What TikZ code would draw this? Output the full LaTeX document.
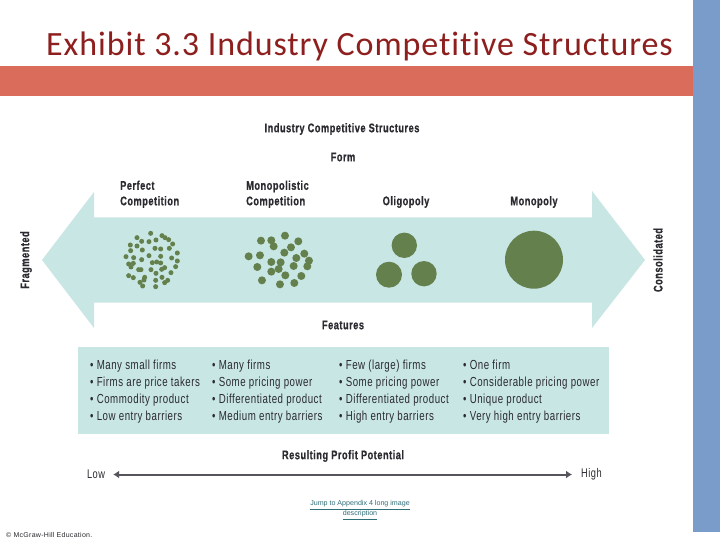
\documentclass[tikz,border=0pt]{standalone}
\usepackage{fontspec}
\setmainfont{Liberation Sans}
\newfontfamily\narrowf[FakeStretch=0.74,LetterSpace=4]{Liberation Sans}
\newfontfamily\narrowb[FakeStretch=0.74,LetterSpace=4,FakeBold=0.6]{Liberation Sans Bold}
\newfontfamily\titlef[Ligatures=NoCommon,LetterSpace=2.7]{Carlito}
\usetikzlibrary{arrows.meta}
\definecolor{bandred}{HTML}{D96C5B}
\definecolor{sideblue}{HTML}{7A9CCB}
\definecolor{paleteal}{HTML}{C8E6E4}
\definecolor{dotgreen}{HTML}{64804C}
\definecolor{titlered}{HTML}{8E1F1F}
\definecolor{inkgrey}{HTML}{2A2A30}
\definecolor{linkteal}{HTML}{2F6F78}
\definecolor{linegrey}{HTML}{55565C}
\tikzset{
  head/.style={font=\narrowb\fontsize{12.5}{15.5}\selectfont,text=inkgrey,inner sep=0pt,align=left},
  bullets/.style={font=\narrowf\fontsize{13.1}{17}\selectfont,text=inkgrey,inner sep=0pt,align=left,anchor=north west},
  dot/.style={fill=dotgreen,draw=none}
}
\begin{document}
\begin{tikzpicture}[x=1pt,y=-1pt]
\useasboundingbox (0,0) rectangle (720,540);
\fill[white] (0,0) rectangle (720,540);
\fill[sideblue] (693,0) rectangle (720,532);
\fill[bandred] (0,66) rectangle (693,96);
\node[font=\titlef\fontsize{34}{36}\selectfont,text=titlered,inner sep=0pt,anchor=base west] (title) at (46,55.5) {Exhibit 3.3 Industry Competitive Structures};
\fill[paleteal] (42,260) -- (94,192) -- (94,217.5) -- (592,217.5) -- (592,191) -- (645,260) -- (592,328) -- (592,302.5) -- (94,302.5) -- (94,328) -- cycle;
\fill[paleteal] (78,347) rectangle (609,434);
\node[head] (main) at (342,129) {Industry Competitive Structures};
\node[head] (form) at (343,157) {Form};
\node[head,anchor=north west] (pc) at (120,180.5) {Perfect\\Competition};
\node[head,anchor=north west] (mc) at (246,180.5) {Monopolistic\\Competition};
\node[head] (oli) at (406,202) {Oligopoly};
\node[head] (mono) at (534,202) {Monopoly};
\node[head] (feat) at (343,325) {Features};
\node[head] (profit) at (343,456) {Resulting Profit Potential};
\node[head,rotate=90] (frag) at (26,260) {Fragmented};
\node[head,rotate=90] (cons) at (658,260) {Consolidated};
\begin{scope}[shift={(90,170)},x=0.3333pt,y=-0.3333pt]
\foreach \a/\b in {182/190,141/203,155/214,177/215,198/210,216/197,225/203,236/209,248/222,121/225,141/228,122/242,157/240,195/235,212/237,238/235,262/249,108/260,131/263,177/257,212/259,155/269,245/264,262/273,116/282,130/280,123/291,187/278,200/276,212/279,146/299,153/299,183/299,215/298,224/293,257/290,198/310,243/308,116/317,130/323,164/322,162/330,216/322,197/331,233/331,224/338,150/337,158/348,197/350}
  \fill[dot] (\a,\b) circle[radius=2.5pt];
\foreach \a/\b in {513/212,544/211,551/229,585/197,625/214,603/232,583/248,643/251,476/259,510/256,619/264,657/272,652/289,544/276,572/277,502/291,611/288,566/297,544/305,586/316,634/318,516/331,570/343,613/339}
  \fill[dot] (\a,\b) circle[radius=4pt];
\end{scope}
\fill[dot] (404.3,245.3) circle[radius=12.7pt];
\fill[dot] (389,274.7) circle[radius=13pt];
\fill[dot] (424,273.7) circle[radius=12.7pt];
\fill[dot] (534,259.7) circle[radius=29pt];
\node[bullets] (c1) at (90,359.5) {• Many small firms\\• Firms are price takers\\• Commodity product\\• Low entry barriers};
\node[bullets] (c2) at (212,359.5) {• Many firms\\• Some pricing power\\• Differentiated product\\• Medium entry barriers};
\node[bullets] (c3) at (339,359.5) {• Few (large) firms\\• Some pricing power\\• Differentiated product\\• High entry barriers};
\node[bullets] (c4) at (463,359.5) {• One firm\\• Considerable pricing power\\• Unique product\\• Very high entry barriers};
\node[font=\narrowf\fontsize{12.5}{13}\selectfont,text=inkgrey,inner sep=0pt] (low) at (96,474.5) {Low};
\node[font=\narrowf\fontsize{12.5}{13}\selectfont,text=inkgrey,inner sep=0pt] (high) at (591.5,474.5) {High};
\draw[{Latex[length=6pt,width=8pt]}-{Latex[length=6pt,width=8pt]},linegrey,line width=2pt] ([xshift=8pt]low.east) -- ([xshift=-9pt]high.west);
\node[font=\fontsize{7.1}{10}\selectfont,text=linkteal,inner sep=0pt,align=center] (link) at (360,510) {\underline{Jump to Appendix 4 long image}\\\underline{description}};
\node[font=\addfontfeatures{LetterSpace=4}\fontsize{7}{8}\selectfont,text=inkgrey,inner sep=0pt,anchor=west] (copy) at (6,535) {© McGraw-Hill Education.};
\end{tikzpicture}
\end{document}
